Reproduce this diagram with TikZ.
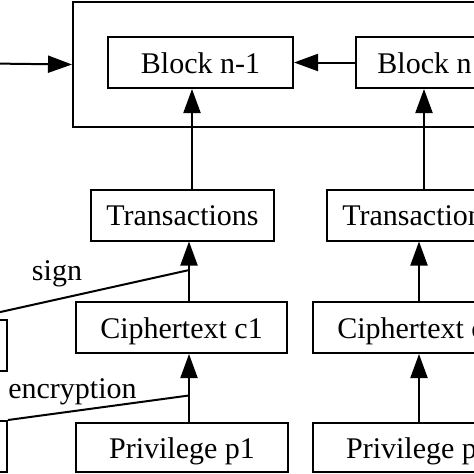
\documentclass[tikz,border=0pt]{standalone}
\usepackage{fontspec}
\setmainfont{Liberation Serif}
\usepackage{tikz}
\usetikzlibrary{arrows.meta,calc,positioning}

\begin{document}
\begin{tikzpicture}[x=1pt, y=-1pt, line width=2pt, >={Triangle[length=24pt,width=17pt]}, font=\fontsize{30}{36}\selectfont]
   \useasboundingbox (0,0) rectangle (474,474);
   \clip (0,0) rectangle (474,474);
   \begin{scope}[every node/.style={rectangle,draw=black,inner sep=0pt,text height=21pt,text depth=0pt,minimum height=51pt}]
    \node (chain) [minimum width=760pt, minimum height=125pt, anchor=north west] at (72,1) {};
    \node (blk1) [minimum width=185pt] at (200.5,62.5) {Block n-1};
    \node (blk2) [minimum width=138pt] at (424.5,62.5) {Block n};
    \node (tx1) [minimum width=183pt] at (182.5,215) {Transactions};
    \node (tx2) [minimum width=183pt] at (418.5,215) {Transactions};
    \node (cip1) [minimum width=211pt] at (181.5,327.5) {Ciphertext c1};
    \node (cip2) [minimum width=211pt] at (418.5,327.5) {Ciphertext c2};
    \node (prv1) [minimum width=212pt, minimum height=49pt] at (182,447.5) {Privilege p1};
    \node (prv2) [minimum width=212pt, minimum height=49pt] at (419,447.5) {Privilege p2};
    \node (keyA) [minimum width=180pt] at (-83,345.5) {};
    \node (keyB) [minimum width=180pt] at (-83,446.5) {};
   \end{scope}
   \coordinate (prev) at (-10,63.5);
   \coordinate (up1) at (192,0);
   \coordinate (lo1) at (189,0);
   \coordinate (up2) at (424,0);
   \coordinate (lo2) at (419,0);
   \coordinate (sgnend) at (-40,321);
   \begin{scope}[->]
    \draw (prev) -- (chain.west);
    \draw (blk2.west) -- (blk1.east);
    \draw (tx1.north -| up1) -- (blk1.south -| up1);
    \draw (tx2.north -| up2) -- (blk2.south -| up2);
    \draw (cip1.north -| lo1) -- coordinate[pos=0.52] (sgn1) (tx1.south -| lo1);
    \draw (cip2.north -| lo2) -- (tx2.south -| lo2);
    \draw (prv1.north -| lo1) -- coordinate[pos=0.39] (enc1) (cip1.south -| lo1);
    \draw (prv2.north -| lo2) -- (cip2.south -| lo2);
   \end{scope}
   \draw (sgn1) -- (sgnend);
   \draw (enc1) -- (keyB.north east);
   \node (lsign) [anchor=base] at (57,280) {sign};
   \node (lenc) [anchor=base] at (72.5,398) {encryption};
\end{tikzpicture}
\end{document}
